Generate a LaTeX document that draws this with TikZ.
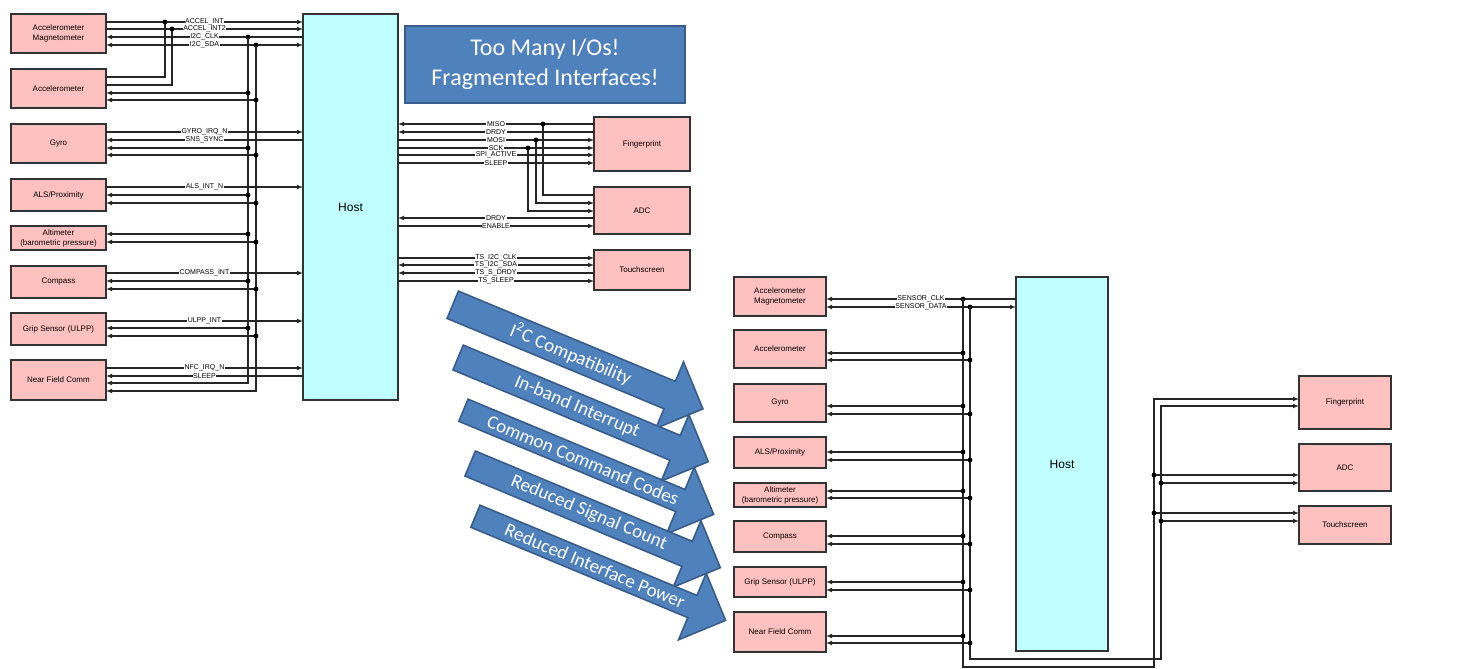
\documentclass[tikz,border=0pt]{standalone}
\usepackage{fontspec}
\setmainfont{Liberation Sans}
\newfontfamily\calib{Carlito}
\usetikzlibrary{arrows.meta,shapes.arrows}
\definecolor{slideblue}{RGB}{79,129,189}
\definecolor{slideedge}{RGB}{56,93,138}
\definecolor{boxpink}{RGB}{255,192,192}
\definecolor{hostcyan}{RGB}{192,255,255}

\tikzset{
  blk/.style={draw=black!80,line width=0.7pt,fill=boxpink,inner sep=0pt,outer sep=0pt,
    align=center,font=\fontsize{4}{5}\selectfont},
  hst/.style={draw=black!80,line width=0.7pt,fill=hostcyan,inner sep=0pt,outer sep=0pt,
    font=\fontsize{6}{7}\selectfont},
  sig/.style={line width=0.6pt,draw=black!85},
  tip/.style={sig,-{Latex[length=3pt,width=2.4pt]}},
  both/.style={sig,{Latex[length=3pt,width=2.4pt]}-{Latex[length=3pt,width=2.4pt]}},
  lbl/.style={fill=white,inner sep=0.3pt,font=\fontsize{3.5}{4}\selectfont},
  dot/.style={circle,fill=black,inner sep=0pt,minimum size=2.4pt},
  fat/.style={single arrow,draw=slideedge,line width=0.8pt,fill=slideblue,
    text=white,font=\calib\fontsize{9.5}{11}\selectfont,single arrow head extend=7.5pt,
    minimum width=36pt,minimum height=135.5pt,inner sep=0pt,rotate=-22.6},
}

\begin{document}
\begin{tikzpicture}[x=0.5pt,y=-0.5pt]
\useasboundingbox (0,0) rectangle (1463,669);

% left sensors
\node[blk,minimum width=47.5pt,minimum height=19.5pt] (am) at (58.5,33.5) {Accelerometer\\Magnetometer};
\node[blk,minimum width=47.5pt,minimum height=19.5pt] (acc) at (58.5,88.5) {Accelerometer};
\node[blk,minimum width=47.5pt,minimum height=19.5pt] (gyro) at (58.5,143.5) {Gyro};
\node[blk,minimum width=47.5pt,minimum height=16pt] (als) at (58.5,195) {ALS/Proximity};
\node[blk,minimum width=47.5pt,minimum height=12pt] (alt) at (58.5,238) {Altimeter\\(barometric pressure)};
\node[blk,minimum width=47.5pt,minimum height=16pt] (comp) at (58.5,282) {Compass};
\node[blk,minimum width=47.5pt,minimum height=16pt] (grip) at (58.5,329) {Grip Sensor (ULPP)};
\node[blk,minimum width=47.5pt,minimum height=20pt] (nfc) at (58.5,380) {Near Field Comm};

% left host and peripherals
\node[hst,minimum width=47.5pt,minimum height=193pt] (host) at (350.5,207) {Host};
\node[blk,minimum width=48pt,minimum height=27pt] (fp) at (642,144) {Fingerprint};
\node[blk,minimum width=48pt,minimum height=23.5pt] (adc) at (642,210.5) {ADC};
\node[blk,minimum width=48pt,minimum height=20pt] (ts) at (642,270) {Touchscreen};

% title
\node[draw=slideedge,line width=1pt,fill=slideblue,text=white,align=center,
  minimum width=140pt,minimum height=38.5pt,font=\calib\fontsize{12}{15}\selectfont]
  (title) at (545,64.5) {Too Many I/Os!\\Fragmented Interfaces!};

% dedicated lines
\draw[tip] (am.east|-0,22) -- node[lbl]{ACCEL\_INT} (host.west|-0,22);
\draw[tip] (am.east|-0,29) -- node[lbl]{ACCEL\_INT2} (host.west|-0,29);
\draw[tip] (host.west|-0,37) -- node[lbl]{I2C\_CLK} (am.east|-0,37);
\draw[both] (host.west|-0,45) -- node[lbl]{I2C\_SDA} (am.east|-0,45);
\draw[sig] (acc.east|-0,77) -| (165,22) node[dot]{};
\draw[sig] (acc.east|-0,85) -| (172,29) node[dot]{};
\draw[tip] (gyro.east|-0,132) -- node[lbl]{GYRO\_IRQ\_N} (host.west|-0,132);
\draw[tip] (host.west|-0,140) -- node[lbl]{SNS\_SYNC} (gyro.east|-0,140);
\draw[tip] (als.east|-0,187) -- node[lbl]{ALS\_INT\_N} (host.west|-0,187);
\draw[tip] (comp.east|-0,273) -- node[lbl]{COMPASS\_INT} (host.west|-0,273);
\draw[tip] (grip.east|-0,321) -- node[lbl]{ULPP\_INT} (host.west|-0,321);
\draw[tip] (nfc.east|-0,368) -- node[lbl]{NFC\_IRQ\_N} (host.west|-0,368);
\draw[tip] (host.west|-0,376) -- node[lbl]{SLEEP} (nfc.east|-0,376);

% shared i2c bus
\coordinate (clk) at (248,37);
\coordinate (sda) at (256,45);
\node[dot] at (clk) {};
\node[dot] at (sda) {};
\draw[tip] (clk) |- (nfc.east|-0,383);
\draw[tip] (sda) |- (nfc.east|-0,391);
\foreach \b/\ya/\yb in {acc/93/100,gyro/148/155,als/195/203,alt/234/242,comp/281/289,grip/328/336}{
  \draw[tip] (clk|-0,\ya) node[dot]{} -- (\b.east|-0,\ya);
  \draw[tip] (sda|-0,\yb) node[dot]{} -- (\b.east|-0,\yb);
}

% spi and touchscreen
\draw[tip] (fp.west|-0,124) -- node[lbl]{MISO} (host.east|-0,124);
\draw[tip] (fp.west|-0,132) -- node[lbl]{DRDY} (host.east|-0,132);
\draw[tip] (host.east|-0,140) -- node[lbl]{MOSI} (fp.west|-0,140);
\draw[tip] (host.east|-0,148) -- node[lbl]{SCK} (fp.west|-0,148);
\draw[tip] (host.east|-0,155) -- node[lbl]{SPI\_ACTIVE} (fp.west|-0,155);
\draw[tip] (host.east|-0,163) -- node[lbl]{SLEEP} (fp.west|-0,163);
\draw[sig] (543,124) node[dot]{} |- (adc.west|-0,195);
\draw[tip] (536,140) node[dot]{} |- (adc.west|-0,203);
\draw[tip] (528,148) node[dot]{} |- (adc.west|-0,211);
\draw[tip] (adc.west|-0,218) -- node[lbl]{DRDY} (host.east|-0,218);
\draw[tip] (host.east|-0,226) -- node[lbl]{ENABLE} (adc.west|-0,226);
\draw[tip] (host.east|-0,258) -- node[lbl]{TS\_I2C\_CLK} (ts.west|-0,258);
\draw[both] (host.east|-0,265) -- node[lbl]{TS\_I2C\_SDA} (ts.west|-0,265);
\draw[tip] (ts.west|-0,273) -- node[lbl]{TS\_S\_DRDY} (host.east|-0,273);
\draw[tip] (host.east|-0,281) -- node[lbl]{TS\_SLEEP} (ts.west|-0,281);

% benefit arrows
\node[fat] (a1) at (571,354) {I\textsuperscript{2}C Compatibility};
\node[fat] (a2) at (577,407) {In-band Interrupt};
\node[fat] (a3) at (583,460) {Common Command Codes};
\node[fat] (a4) at (589,513) {Reduced Signal Count};
\node[fat] (a5) at (595,566) {Reduced Interface Power};

% right sensors
\node[blk,minimum width=46pt,minimum height=19.5pt] (ram) at (780,296.5) {Accelerometer\\Magnetometer};
\node[blk,minimum width=46pt,minimum height=19pt] (racc) at (780,349) {Accelerometer};
\node[blk,minimum width=46pt,minimum height=19pt] (rgyro) at (780,403) {Gyro};
\node[blk,minimum width=46pt,minimum height=15.5pt] (rals) at (780,452.5) {ALS/Proximity};
\node[blk,minimum width=46pt,minimum height=12pt] (ralt) at (780,495) {Altimeter\\(barometric pressure)};
\node[blk,minimum width=46pt,minimum height=15.5pt] (rcomp) at (780,536.5) {Compass};
\node[blk,minimum width=46pt,minimum height=15pt] (rgrip) at (780,582) {Grip Sensor (ULPP)};
\node[blk,minimum width=46pt,minimum height=20pt] (rnfc) at (780,632) {Near Field Comm};

% right host and peripherals
\node[hst,minimum width=46pt,minimum height=187pt] (rhost) at (1062,464) {Host};
\node[blk,minimum width=46pt,minimum height=26.5pt] (rfp) at (1345,402.5) {Fingerprint};
\node[blk,minimum width=46pt,minimum height=23.5pt] (radc) at (1345,467.5) {ADC};
\node[blk,minimum width=46pt,minimum height=19pt] (rts) at (1345,525) {Touchscreen};

% unified sensor bus
\draw[tip] (rhost.west|-0,299) -- node[lbl]{SENSOR\_CLK} (ram.east|-0,299);
\draw[both] (ram.east|-0,307) -- node[lbl]{SENSOR\_DATA} (rhost.west|-0,307);
\coordinate (rclk) at (963,299);
\coordinate (rsda) at (970,307);
\node[dot] at (rclk) {};
\node[dot] at (rsda) {};
\draw[tip] (rclk) |- (1154,667) |- (rfp.west|-0,399);
\draw[tip] (rsda) |- (1161,659) |- (rfp.west|-0,406);
\foreach \b/\ya/\yb in {racc/353/360,rgyro/406/414,rals/452/460,ralt/491/498,rcomp/536/544,rgrip/582/590,rnfc/636/643}{
  \draw[tip] (rclk|-0,\ya) node[dot]{} -- (\b.east|-0,\ya);
  \draw[tip] (rsda|-0,\yb) node[dot]{} -- (\b.east|-0,\yb);
}
\draw[tip] (1154,475) node[dot]{} -- (radc.west|-0,475);
\draw[tip] (1161,483) node[dot]{} -- (radc.west|-0,483);
\draw[tip] (1154,513) node[dot]{} -- (rts.west|-0,513);
\draw[tip] (1161,521) node[dot]{} -- (rts.west|-0,521);

\end{tikzpicture}
\end{document}
